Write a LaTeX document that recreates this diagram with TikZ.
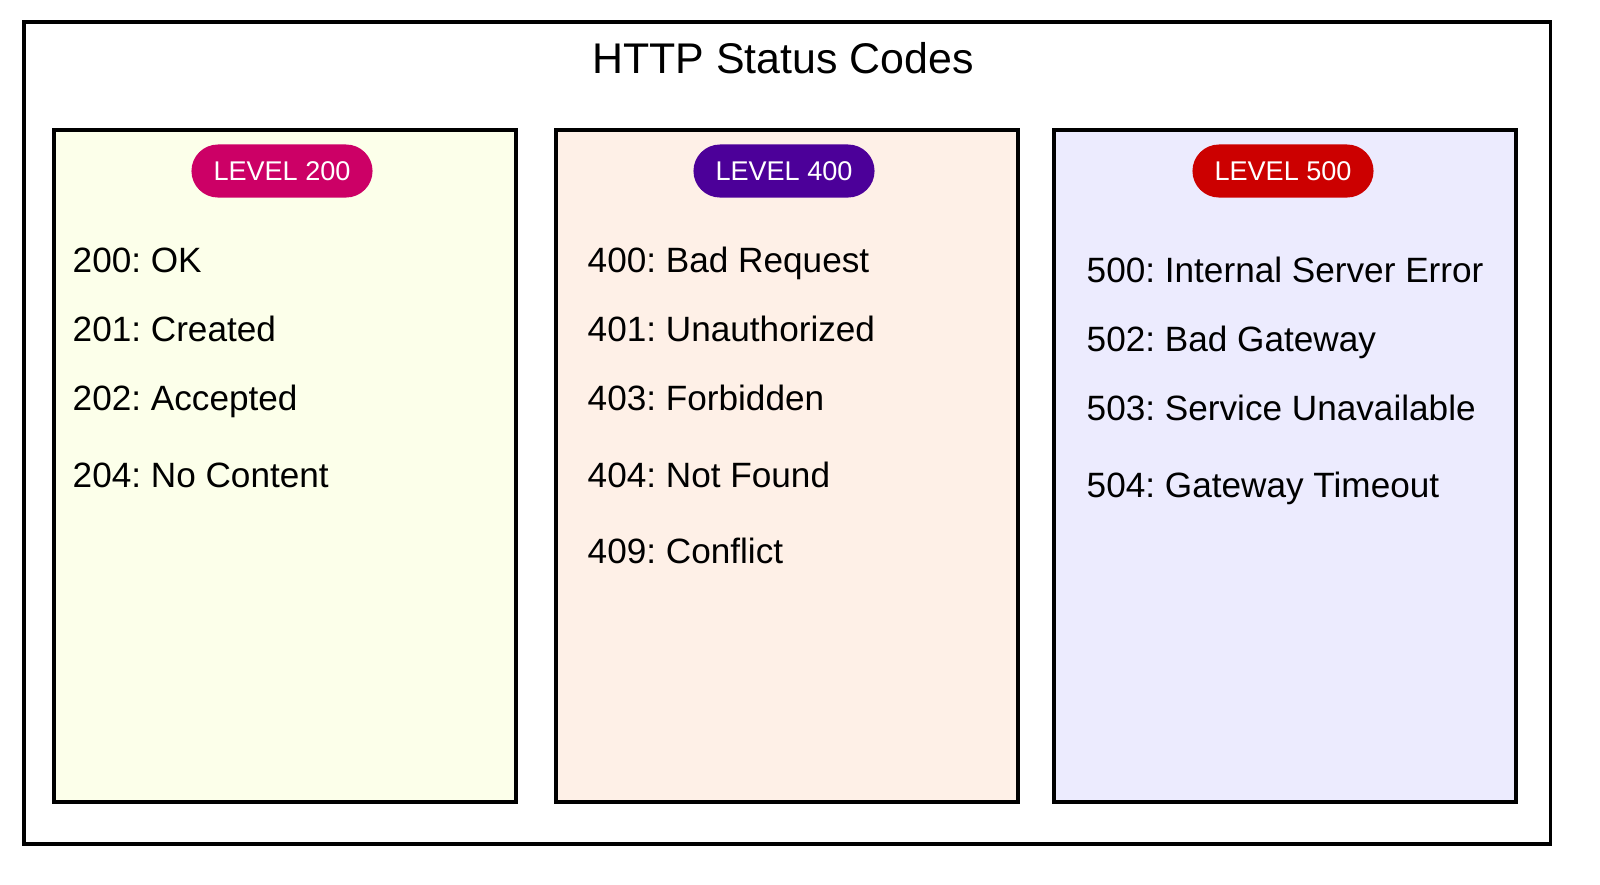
\documentclass[tikz,border=0pt]{standalone}
\usepackage{fontspec}
\setmainfont{Liberation Sans}
\frenchspacing
\definecolor{okpink}{RGB}{204, 0, 102}
\definecolor{clientpurple}{RGB}{76, 0, 153}
\definecolor{serverred}{RGB}{204, 0, 0}
\definecolor{okbg}{RGB}{252, 255, 234}
\definecolor{clientbg}{RGB}{254, 240, 231}
\definecolor{serverbg}{RGB}{236, 235, 254}
\usetikzlibrary{positioning}

\begin{document}
\begin{tikzpicture}[x=0.01cm, y=-0.01cm, every node/.style={font=\fontsize{10}{12}\selectfont},
    column/.style={rectangle, draw, line width=1pt, minimum width=4.62cm, minimum height=6.72cm, anchor=north west},
    badge/.style={rectangle, rounded corners=0.265cm, minimum width=1.81cm, minimum height=0.53cm, text=white, font=\fontsize{7.7}{9}\selectfont},
    code/.style={anchor=base west, inner sep=0pt}]
    \useasboundingbox (0,0) rectangle (1600,884);

    % Frame and title
    \node[rectangle, draw, line width=1pt, minimum width=15.26cm, minimum height=8.22cm, anchor=north west] (frame) at (22,20) {};
    \node[anchor=base, inner sep=0pt, font=\fontsize{12.2}{14}\selectfont] (title) at (783,73) {HTTP Status Codes};

    % Level 200
    \node[column, fill=okbg] (col200) at (52,128) {};
    \node[badge, fill=okpink] (lvl200) at (282,171) {LEVEL 200};
    \node[code] (c200) at (72,272) {200: OK};
    \node[code] (c201) at (72,341) {201: Created};
    \node[code] (c202) at (72,410) {202: Accepted};
    \node[code] (c204) at (72,487) {204: No Content};

    % Level 400
    \node[column, fill=clientbg] (col400) at (554,128) {};
    \node[badge, fill=clientpurple] (lvl400) at (784,171) {LEVEL 400};
    \node[code] (c400) at (587,272) {400: Bad Request};
    \node[code] (c401) at (587,341) {401: Unauthorized};
    \node[code] (c403) at (587,410) {403: Forbidden};
    \node[code] (c404) at (587,487) {404: Not Found};
    \node[code] (c409) at (587,563) {409: Conflict};

    % Level 500
    \node[column, fill=serverbg] (col500) at (1052,128) {};
    \node[badge, fill=serverred] (lvl500) at (1283,171) {LEVEL 500};
    \node[code] (c500) at (1086,282) {500: Internal Server Error};
    \node[code] (c502) at (1086,351) {502: Bad Gateway};
    \node[code] (c503) at (1086,420) {503: Service Unavailable};
    \node[code] (c504) at (1086,497) {504: Gateway Timeout};
\end{tikzpicture}
\end{document}
